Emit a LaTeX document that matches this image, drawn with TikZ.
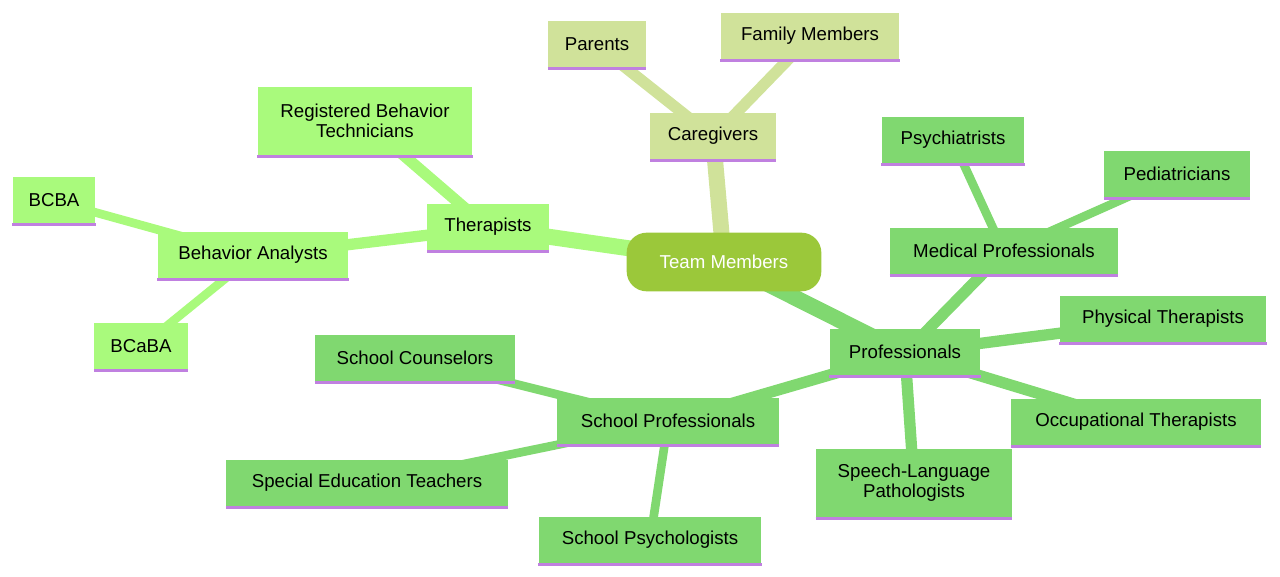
\documentclass[tikz,border=0pt]{standalone}
\usepackage{fontspec}
\setmainfont{Liberation Sans}
\definecolor{rootc}{HTML}{9BC83A}
\definecolor{carec}{HTML}{D0E29A}
\definecolor{therc}{HTML}{A9FA7C}
\definecolor{profc}{HTML}{80D870}
\definecolor{ulc}{HTML}{C080E0}
\tikzset{
  box/.style={inner sep=0pt, align=center, font=\fontsize{14}{15}\selectfont, text=black},
  uline/.style={ulc, line width=2.2pt},
  e1/.style={line width=12pt},
  e2/.style={line width=8.5pt},
  e3/.style={line width=6.5pt},
}
\newcommand{\mmnode}[7]{%
  \node[box, fill=#6, minimum width=#4, minimum height=#5] (#1) at (#2,#3) {#7};
  \draw[uline] ([yshift=-1pt]#1.south west) -- ([yshift=-1pt]#1.south east);}
\begin{document}
\begin{tikzpicture}[x=0.75pt,y=-0.75pt]
\useasboundingbox (0,0) rectangle (1280,577);
% coordinates for edges
\coordinate (r) at (724,262);
\coordinate (cg) at (713,137);
\coordinate (pa) at (597,45);
\coordinate (fm) at (810,37);
\coordinate (th) at (488,228);
\coordinate (rbt) at (365,122);
\coordinate (ba) at (253,256);
\coordinate (bcba) at (54,201);
\coordinate (bcaba) at (141,347);
\coordinate (pr) at (905,353);
\coordinate (mp) at (1004,252);
\coordinate (psy) at (953,141);
\coordinate (ped) at (1177,175);
\coordinate (pt) at (1163,320);
\coordinate (ot) at (1136,423);
\coordinate (slp) at (914,484);
\coordinate (sp) at (668,422);
\coordinate (sc) at (415,359);
\coordinate (set) at (367,484);
\coordinate (spsy) at (650,541);
% edges
\draw[e1, carec] (r) -- (cg);
\draw[e2, carec] (cg) -- (pa);
\draw[e2, carec] (cg) -- (fm);
\draw[e1, therc] (r) -- (th);
\draw[e2, therc] (th) -- (rbt);
\draw[e2, therc] (th) -- (ba);
\draw[e3, therc] (ba) -- (bcba);
\draw[e3, therc] (ba) -- (bcaba);
\draw[e1, profc] (r) -- (pr);
\draw[e2, profc] (pr) -- (mp);
\draw[e3, profc] (mp) -- (psy);
\draw[e3, profc] (mp) -- (ped);
\draw[e2, profc] (pr) -- (pt);
\draw[e2, profc] (pr) -- (ot);
\draw[e2, profc] (pr) -- (slp);
\draw[e2, profc] (pr) -- (sp);
\draw[e3, profc] (sp) -- (sc);
\draw[e3, profc] (sp) -- (set);
\draw[e3, profc] (sp) -- (spsy);
% nodes
\node[box, fill=rootc, text=white, rounded corners=15pt, minimum width=146pt, minimum height=44pt] (root) at (r) {Team Members};
\mmnode{ncg}{713}{136}{94pt}{34pt}{carec}{Caregivers}
\mmnode{npa}{597}{44}{73pt}{34pt}{carec}{Parents}
\mmnode{nfm}{810}{36}{134pt}{34pt}{carec}{Family Members}
\mmnode{nth}{488}{227}{91pt}{34pt}{therc}{Therapists}
\mmnode{nrbt}{365}{121}{161pt}{51pt}{therc}{Registered Behavior\\Technicians}
\mmnode{nba}{253}{255}{143pt}{34pt}{therc}{Behavior Analysts}
\mmnode{nbcba}{54}{200}{62pt}{34pt}{therc}{BCBA}
\mmnode{nbcaba}{141}{346}{70pt}{34pt}{therc}{BCaBA}
\mmnode{npr}{905}{352}{113pt}{34pt}{profc}{Professionals}
\mmnode{nmp}{1004}{251}{171pt}{34pt}{profc}{Medical Professionals}
\mmnode{npsy}{953}{140}{107pt}{34pt}{profc}{Psychiatrists}
\mmnode{nped}{1177}{174}{109pt}{34pt}{profc}{Pediatricians}
\mmnode{npt}{1163}{319}{155pt}{34pt}{profc}{Physical Therapists}
\mmnode{not}{1136}{422}{187pt}{34pt}{profc}{Occupational Therapists}
\mmnode{nslp}{914}{483}{147pt}{51pt}{profc}{Speech-Language\\Pathologists}
\mmnode{nsp}{668}{421}{166pt}{34pt}{profc}{School Professionals}
\mmnode{nsc}{415}{358}{150pt}{34pt}{profc}{School Counselors}
\mmnode{nset}{367}{483}{211pt}{34pt}{profc}{Special Education Teachers}
\mmnode{nspsy}{650}{540}{167pt}{34pt}{profc}{School Psychologists}
\end{tikzpicture}
\end{document}
